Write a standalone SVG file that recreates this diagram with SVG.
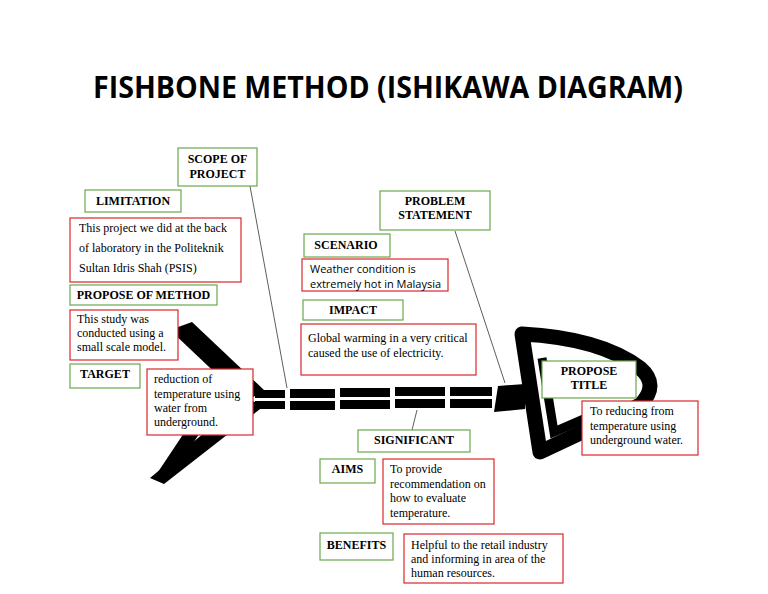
<svg xmlns="http://www.w3.org/2000/svg" width="768" height="594" viewBox="0 0 768 594">
<style>
.g{fill:#fff;stroke:#6aa84f;stroke-width:1.2}
.r{fill:#fff;stroke:#d9262b;stroke-width:1.2}
.h{font-family:"Liberation Serif",serif;font-weight:bold;font-size:12px;fill:#000}
.t{font-family:"Liberation Serif",serif;font-size:12px;fill:#000}
.s{font-family:"Open Sans",sans-serif;font-size:11px;fill:#000}
.ln{stroke:#333;stroke-width:0.8;fill:none}
</style>
<rect width="768" height="594" fill="#fff"/>
<text x="388" y="98" text-anchor="middle" font-family="Open Sans, sans-serif" font-weight="bold" font-size="30" textLength="590" lengthAdjust="spacingAndGlyphs">FISHBONE METHOD (ISHIKAWA DIAGRAM)</text>
<g id="fish">
<path d="M170 330 L192 322 L264 390 L246 402 Z" fill="#000"/>
<path d="M246 398 L264 406 L164 484 L150 478 Z" fill="#000"/>
<path d="M158 472 L198 412 L210 418 L168 480 Z" fill="#000"/>
<g fill="#000">
<rect x="255" y="390" width="30" height="8"/><rect x="255" y="401" width="30" height="8"/>
<rect x="290" y="389" width="45" height="9"/><rect x="290" y="401" width="45" height="9"/>
<rect x="340" y="388" width="50" height="9"/><rect x="340" y="400" width="50" height="9"/>
<rect x="395" y="387" width="50" height="9"/><rect x="395" y="399" width="50" height="9"/>
<rect x="450" y="387" width="42" height="9"/><rect x="450" y="399" width="42" height="9"/>
<path d="M498 386 L525 384 L525 409 L494 412 Z"/>
</g>
<path d="M522 334 Q600 338 640 368 Q660 385 640 405 L540 452 Z" fill="none" stroke="#000" stroke-width="15" stroke-linejoin="round"/>
<path d="M542 358 L554 432 L600 412" fill="none" stroke="#000" stroke-width="9"/>
</g>
<g id="connectors">
<line class="ln" x1="250" y1="186" x2="287" y2="388"/>
<line class="ln" x1="455" y1="231" x2="505" y2="383"/>
<line class="ln" x1="417" y1="410" x2="412" y2="430"/>
</g>
<g id="scope"><rect class="g" x="178" y="148" width="79" height="38"/><text class="h" x="217.5" y="163" text-anchor="middle">SCOPE OF</text><text class="h" x="217.5" y="178" text-anchor="middle">PROJECT</text></g>
<g id="limitation"><rect class="g" x="85" y="190" width="96" height="22"/><text class="h" x="133" y="205" text-anchor="middle">LIMITATION</text></g>
<g id="limitation-text"><rect class="r" x="70" y="218" width="171" height="64"/><text class="t" x="79" y="232">This project we did at the back</text><text class="t" x="79" y="252">of laboratory in the Politeknik</text><text class="t" x="79" y="272">Sultan Idris Shah (PSIS)</text></g>
<g id="method"><rect class="g" x="70" y="285" width="147" height="20"/><text class="h" x="143.5" y="299" text-anchor="middle">PROPOSE OF METHOD</text></g>
<g id="method-text"><rect class="r" x="70" y="310" width="108" height="50"/><text class="t" x="77" y="323">This study was</text><text class="t" x="77" y="337">conducted using a</text><text class="t" x="77" y="351">small scale model.</text></g>
<g id="target"><rect class="g" x="70" y="364" width="70" height="24"/><text class="h" x="105" y="378" text-anchor="middle">TARGET</text></g>
<g id="target-text"><rect class="r" x="147" y="369" width="106" height="66"/><text class="t" x="154" y="383">reduction of</text><text class="t" x="154" y="398">temperature using</text><text class="t" x="154" y="412">water from</text><text class="t" x="154" y="426">underground.</text></g>
<g id="problem"><rect class="g" x="380" y="191" width="110" height="39"/><text class="h" x="435" y="205" text-anchor="middle">PROBLEM</text><text class="h" x="435" y="219" text-anchor="middle">STATEMENT</text></g>
<g id="scenario"><rect class="g" x="304" y="234" width="86" height="23"/><text class="h" x="346" y="249" text-anchor="middle">SCENARIO</text></g>
<g id="scenario-text"><rect class="r" x="302" y="259" width="146" height="32"/><text class="s" x="310" y="273">Weather condition is</text><text class="s" x="310" y="288">extremely hot in Malaysia</text></g>
<g id="impact"><rect class="g" x="303" y="300" width="100" height="20"/><text class="h" x="353" y="314" text-anchor="middle">IMPACT</text></g>
<g id="impact-text"><rect class="r" x="301" y="324" width="175" height="51"/><text class="t" x="308" y="342">Global warming in a very critical</text><text class="t" x="308" y="357">caused the use of electricity.</text></g>
<g id="title"><rect class="g" x="542" y="361" width="94" height="37"/><text class="h" x="589" y="375" text-anchor="middle">PROPOSE</text><text class="h" x="589" y="389" text-anchor="middle">TITLE</text></g>
<g id="title-text"><rect class="r" x="582" y="401" width="116" height="54"/><text class="t" x="590" y="415">To reducing from</text><text class="t" x="590" y="430">temperature using</text><text class="t" x="590" y="444">underground water.</text></g>
<g id="significant"><rect class="g" x="358" y="430" width="112" height="22"/><text class="h" x="414" y="444" text-anchor="middle">SIGNIFICANT</text></g>
<g id="aims"><rect class="g" x="320" y="459" width="55" height="24"/><text class="h" x="347.5" y="473" text-anchor="middle">AIMS</text></g>
<g id="aims-text"><rect class="r" x="383" y="459" width="111" height="65"/><text class="t" x="390" y="473">To provide</text><text class="t" x="390" y="488">recommendation on</text><text class="t" x="390" y="502">how to evaluate</text><text class="t" x="390" y="517">temperature.</text></g>
<g id="benefits"><rect class="g" x="320" y="533" width="73" height="27"/><text class="h" x="356.5" y="549" text-anchor="middle">BENEFITS</text></g>
<g id="benefits-text"><rect class="r" x="404" y="534" width="159" height="49"/><text class="t" x="411" y="549">Helpful to the retail industry</text><text class="t" x="411" y="563">and informing in area of the</text><text class="t" x="411" y="577">human resources.</text></g>
</svg>
